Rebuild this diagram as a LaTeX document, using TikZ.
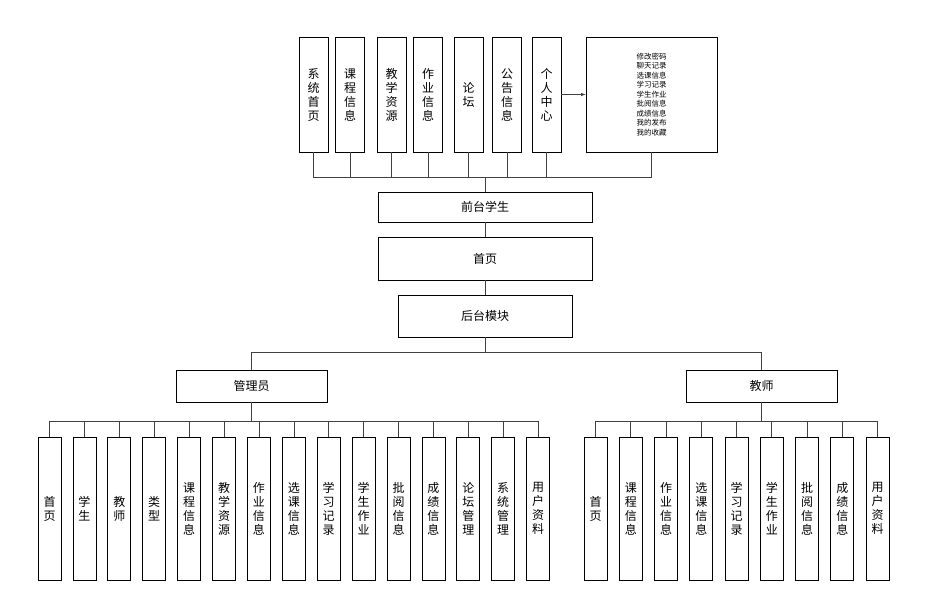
\documentclass[tikz,border=0pt]{standalone}
\usepackage{fontspec}
\newfontfamily\cjk{Noto Sans CJK SC}
\tikzset{
  caja/.style={draw, thick, fill=white, inner sep=0pt, font=\cjk\fontsize{12}{14}\selectfont},
  vcaja/.style={caja, minimum width=23pt, align=center},
  linea/.style={draw=black!75, semithick}
}
\begin{document}
\begin{tikzpicture}[x=1pt, y=-1pt]
        \useasboundingbox (0,0) rectangle (947,611);

        % ~~~~ Modulos del frente ~~~~%
        \foreach \n/\x/\t in {s1/313.5/系\\统\\首\\页, s2/350/课\\程\\信\\息, s3/391.5/教\\学\\资\\源,
                              s4/428/作\\业\\信\\息, s5/468.5/论\\坛, s6/507/公\\告\\信\\息, s7/546.5/个\\人\\中\\心}
            \node[vcaja, minimum width=29pt, minimum height=115pt] (\n) at (\x,94.5) {\t};
        \node[caja, minimum width=131pt, minimum height=115pt, font=\cjk\fontsize{7.5}{9.5}\selectfont, align=center] (centro) at (651.5,94.5)
            {修改密码\\聊天记录\\选课信息\\学习记录\\学生作业\\批阅信息\\成绩信息\\我的发布\\我的收藏};
        \draw[linea, -latex] (s7.east) -- (centro.west);

        % ~~~~ Columna central ~~~~%
        \node[caja, minimum width=214pt, minimum height=30pt] (front) at (485,207) {前台学生};
        \node[caja, minimum width=214pt, minimum height=43pt] (inicio) at (485,258.5) {首页};
        \node[caja, minimum width=174pt, minimum height=42pt] (back) at (485,316) {后台模块};
        \coordinate (busA) at (485,177);
        \foreach \n in {s1,s2,s3,s4,s5,s6,s7,centro}
            \draw[linea] (\n.south) |- (busA);
        \draw[linea] (busA) -- (front.north);
        \draw[linea] (front) -- (inicio);
        \draw[linea] (inicio) -- (back);

        % ~~~~ Roles ~~~~%
        \node[caja, minimum width=151pt, minimum height=32pt] (admin) at (251.5,386) {管理员};
        \node[caja, minimum width=151pt, minimum height=32pt] (prof) at (761.5,386) {教师};
        \coordinate (busB) at (485,352);
        \draw[linea] (back.south) -- (busB);
        \draw[linea] (busB) -| (admin.north);
        \draw[linea] (busB) -| (prof.north);

        % ~~~~ Hojas del administrador ~~~~%
        \coordinate (busC) at (251.5,421);
        \draw[linea] (admin.south) -- (busC);
        \foreach \t [count=\i] in {首\\页, 学\\生, 教\\师, 类\\型, 课\\程\\信\\息, 教\\学\\资\\源, 作\\业\\信\\息,
                                   选\\课\\信\\息, 学\\习\\记\\录, 学\\生\\作\\业, 批\\阅\\信\\息, 成\\绩\\信\\息,
                                   论\\坛\\管\\理, 系\\统\\管\\理, 用\\户\\资\\料} {
            \node[vcaja, minimum height=143pt] (a\i) at ({49.5+34.9*(\i-1)},508.5) {\t};
            \draw[linea] (a\i.north) |- (busC);
        }

        % ~~~~ Hojas del profesor ~~~~%
        \coordinate (busD) at (761.5,421);
        \draw[linea] (prof.south) -- (busD);
        \foreach \t [count=\i] in {首\\页, 课\\程\\信\\息, 作\\业\\信\\息, 选\\课\\信\\息, 学\\习\\记\\录,
                                   学\\生\\作\\业, 批\\阅\\信\\息, 成\\绩\\信\\息, 用\\户\\资\\料} {
            \node[vcaja, minimum height=143pt] (p\i) at ({595.5+35.25*(\i-1)},508.5) {\t};
            \draw[linea] (p\i.north) |- (busD);
        }
    \end{tikzpicture}
\end{document}
